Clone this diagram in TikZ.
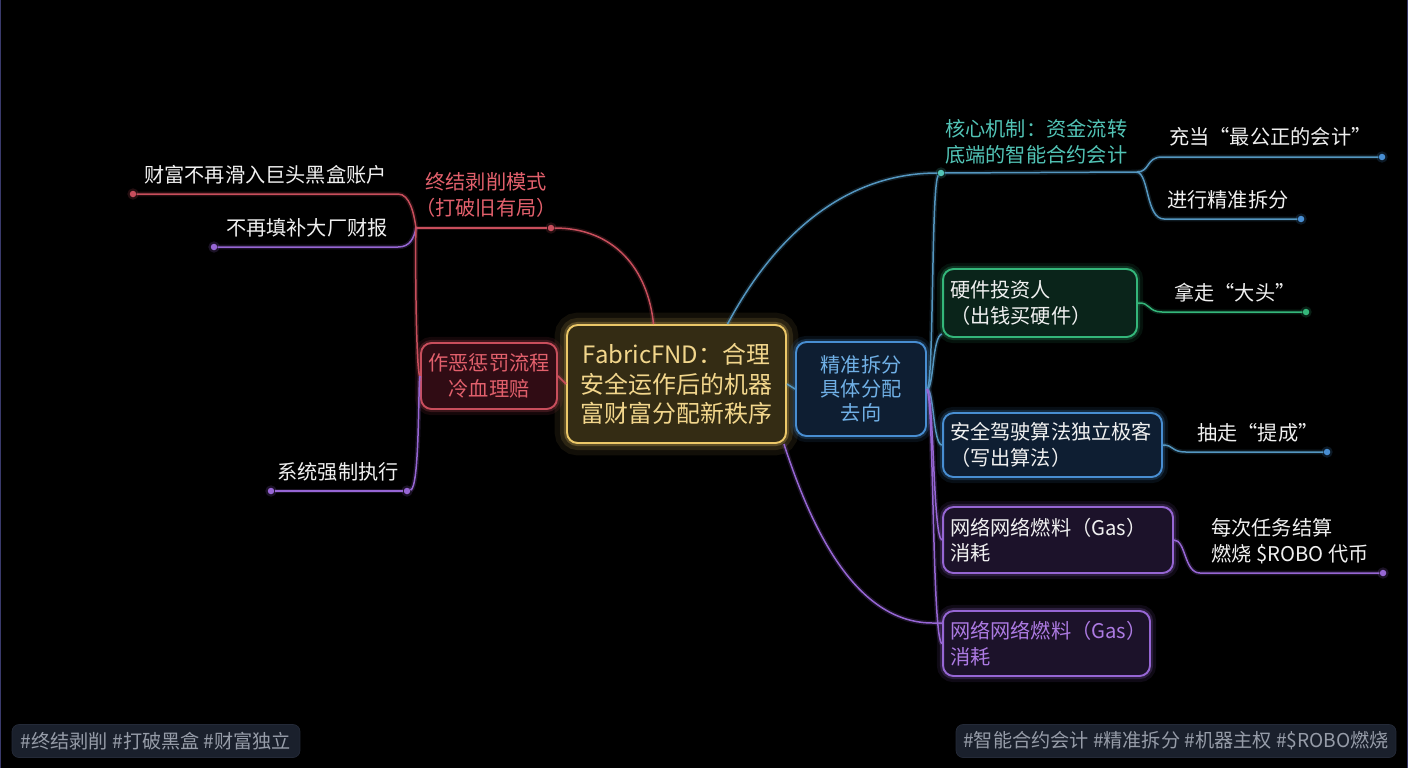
\documentclass[tikz,border=0pt]{standalone}
\usepackage{fontspec}
\setmainfont{Noto Sans CJK SC}
\usepackage{tikz}
\usetikzlibrary{positioning, calc}
\definecolor{myred}{RGB}{200,78,92}
\definecolor{redtxt}{RGB}{226,96,108}
\definecolor{hdrred}{RGB}{48,12,20}
\definecolor{myyellow}{RGB}{236,200,104}
\definecolor{ytxt}{RGB}{242,214,140}
\definecolor{hdryellow}{RGB}{52,44,20}
\definecolor{myblue}{RGB}{72,142,210}
\definecolor{btxt}{RGB}{112,176,230}
\definecolor{hdrblue}{RGB}{14,30,50}
\definecolor{myteal}{RGB}{82,196,182}
\definecolor{tealline}{RGB}{84,150,192}
\definecolor{mygreen}{RGB}{52,182,122}
\definecolor{hdrgreen}{RGB}{10,36,26}
\definecolor{mypurple}{RGB}{150,102,212}
\definecolor{ptxt}{RGB}{172,122,226}
\definecolor{hdrpurple}{RGB}{28,18,42}
\definecolor{tagfill}{RGB}{26,32,44}
\definecolor{tagdraw}{RGB}{36,42,56}
\definecolor{tagtxt}{RGB}{150,156,168}
\definecolor{leaftxt}{RGB}{240,240,240}
\definecolor{edgecol}{RGB}{58,58,108}
\tikzset{
  glow/.style={preaction={draw=#1, line width=7pt, opacity=0.10},
    preaction={draw=#1, line width=3.5pt, opacity=0.22}},
  bigglow/.style={preaction={draw=#1, line width=14pt, opacity=0.08},
    preaction={draw=#1, line width=8pt, opacity=0.12},
    preaction={draw=#1, line width=3.5pt, opacity=0.25}},
  lineglow/.style={preaction={draw=#1, line width=2.6pt, opacity=0.18}},
  box/.style={rectangle, rounded corners=6pt, line width=1.1pt,
    inner sep=0.14cm, font=\fontsize{11.5}{14.6}\selectfont},
  hubbox/.style={box, draw=myyellow, fill=hdryellow, text=ytxt, bigglow=myyellow,
    minimum width=4.38cm, minimum height=2.36cm, align=center,
    font=\fontsize{13.6}{17}\selectfont},
  redbox/.style={box, draw=myred, fill=hdrred, text=redtxt, glow=myred,
    minimum width=2.72cm, minimum height=1.32cm, align=center},
  bluebox/.style={box, draw=myblue, fill=hdrblue, text=btxt, glow=myblue,
    align=center},
  leafbox/.style={box, draw=#1, glow=#1, align=left, text=leaftxt},
  leaf/.style={font=\fontsize{11.5}{14.6}\selectfont, text=leaftxt,
    inner sep=0pt, align=left},
  dot/.style={circle, fill=#1, inner sep=0pt, minimum size=0.13cm,
    lineglow=#1},
  redline/.style={draw=myred, line width=0.85pt, lineglow=myred},
  purpleline/.style={draw=mypurple, line width=0.85pt, lineglow=mypurple},
  blueline/.style={draw=tealline, line width=0.85pt, lineglow=tealline},
  greenline/.style={draw=mygreen, line width=0.85pt, lineglow=mygreen},
  tag/.style={rectangle, rounded corners=4pt, fill=tagfill, draw=tagdraw,
    text=tagtxt, font=\fontsize{10.9}{12}\selectfont, minimum height=0.66cm}
}

\begin{document}
\begin{tikzpicture}[x=0.02cm, y=-0.02cm]
  \fill[black] (0,0) rectangle (1408,768);
  \useasboundingbox (0,0) rectangle (1408,768);
  \draw[edgecol, line width=0.6pt] (0.6,0) -- (0.6,768);
  \draw[edgecol, line width=0.6pt] (1407.4,0) -- (1407.4,768);

  % centre and first level
  \node[hubbox] (hub) at (676.5,384) {FabricFND：合理\\安全运作后的机器\\富财富分配新秩序};
  \node[redbox] (punish) at (489,376) {作恶惩罚流程\\冷血理赔};
  \node[bluebox, minimum width=2.6cm, minimum height=1.88cm,
    font=\fontsize{11.5}{13.5}\selectfont] (split) at (861,389) {精准拆分\\具体分配\\去向};
  \node[leaf, text=redtxt, align=center] (exploit) at (486,195) {终结剥削模式\\（打破旧有局）};
  \node[leaf, text=myteal, anchor=west] (core) at (945,142) {核心机制：资金流转\\底端的智能合约会计};

  % right boxes
  \node[leafbox=mygreen, fill=hdrgreen, minimum width=3.88cm, minimum height=1.36cm,
    text width=3.6cm] (investor) at (1040,303) {硬件投资人\\（出钱买硬件）};
  \node[leafbox=myblue, fill=hdrblue, minimum width=4.38cm, minimum height=1.28cm,
    text width=4.1cm] (algo) at (1052.5,445) {安全驾驶算法独立极客\\（写出算法）};
  \node[leafbox=mypurple, fill=hdrpurple, minimum width=4.6cm, minimum height=1.32cm,
    text width=4.32cm] (gasA) at (1058,540) {网络网络燃料（Gas）\\消耗};
  \node[leafbox=mypurple, fill=hdrpurple, text=ptxt, minimum width=4.14cm,
    minimum height=1.3cm, text width=3.86cm] (gasB) at (1046.5,643.5) {网络网络燃料（Gas）\\消耗};

  % leaf texts
  \node[leaf, anchor=east] (wealth) at (387,175) {财富不再滑入巨头黑盒账户};
  \node[leaf, anchor=east] (report) at (388,228) {不再填补大厂财报};
  \node[leaf, anchor=east] (enforce) at (399,472) {系统强制执行};
  \node[leaf, anchor=west] (fair) at (1169,137) {充当“最公正的会计”};
  \node[leaf, anchor=west] (precise) at (1167,200) {进行精准拆分};
  \node[leaf, anchor=west] (bighead) at (1174,293) {拿走“大头”};
  \node[leaf, anchor=west] (cut) at (1197,433) {抽走“提成”};
  \node[leaf, anchor=west] (burn) at (1211,541) {每次任务结算\\燃烧 \$ROBO 代币};

  % dots
  \node[dot=myred] (dWealth) at (133,194) {};
  \node[dot=mypurple] (dReport) at (214,247) {};
  \node[dot=myred] (dExploit) at (551,228) {};
  \node[dot=mypurple] (dSysL) at (271,491) {};
  \node[dot=mypurple] (dSysR) at (407,491) {};
  \node[dot=myteal] (dCore) at (941,173) {};
  \node[dot=myblue] (dFair) at (1382,157) {};
  \node[dot=myblue] (dPrecise) at (1301,219) {};
  \node[dot=mygreen] (dBig) at (1306,312) {};
  \node[dot=myblue] (dCut) at (1327,452) {};
  \node[dot=mypurple] (dBurn) at (1383,573) {};

  \coordinate (junc) at (416,228);
  \coordinate (fork) at (1137,172);

  % left connectors
  \draw[redline] (hub.west) -- (punish.east);
  \draw[redline] (dExploit) .. controls (615,228) and (648,270) .. ([xshift=-0.46cm]hub.north);
  \draw[redline] (junc) -- (dExploit);
  \draw[redline] (dWealth) -- (398,194) .. controls (410,194) and (414,214) .. (junc);
  \draw[purpleline] (dReport) -- (398,247) .. controls (410,247) and (414,238) .. (junc);
  \draw[redline] (punish.west) .. controls (416,377) and (415,245) .. (junc);
  \draw[purpleline] (punish.west) .. controls (418,380) and (420,488) .. (dSysR);
  \draw[purpleline] (dSysL) -- (dSysR);

  % right connectors
  \draw[blueline] (hub.east) -- (split.west);
  \draw[blueline] ([xshift=1.02cm]hub.north) .. controls (775,235) and (845,173) .. (dCore);
  \draw[blueline] (split.east) .. controls (934,389) and (931,182) .. (dCore);
  \draw[blueline] (dCore) -- (fork);
  \draw[blueline] (fork) .. controls (1150,172) and (1146,157) .. (1162,157) -- (dFair);
  \draw[blueline] (fork) .. controls (1149,174) and (1146,219) .. (1164,219) -- (dPrecise);
  \draw[blueline] (split.east) .. controls (934,389) and (932,336) .. ([yshift=0.08cm]investor.south west);
  \draw[blueline] (split.east) .. controls (934,389) and (933,445) .. (algo.west);
  \draw[purpleline] (split.east) .. controls (934,395) and (933,540) .. (gasA.west);
  \draw[purpleline] (split.east) .. controls (934,400) and (932,643) .. (gasB.west);
  \draw[purpleline] ([xshift=-0.06cm]hub.south east) .. controls (815,540) and (860,623) .. (933,623) -- ([yshift=0.41cm]gasB.west);
  \draw[greenline] (investor.east) .. controls (1150,302) and (1148,312) .. (1162,312) -- (dBig);
  \draw[blueline] (algo.east) .. controls (1174,445) and (1171,452) .. (1186,452) -- (dCut);
  \draw[purpleline] (gasA.east) .. controls (1186,540) and (1184,573) .. (1200,573) -- (dBurn);

  % tags
  \node[tag, minimum width=5.76cm] (tagL) at (156,741) {\#终结剥削 \#打破黑盒 \#财富独立};
  \node[tag, minimum width=8.8cm] (tagR) at (1176,741) {\#智能合约会计 \#精准拆分 \#机器主权 \#\$ROBO燃烧};
\end{tikzpicture}
\end{document}
